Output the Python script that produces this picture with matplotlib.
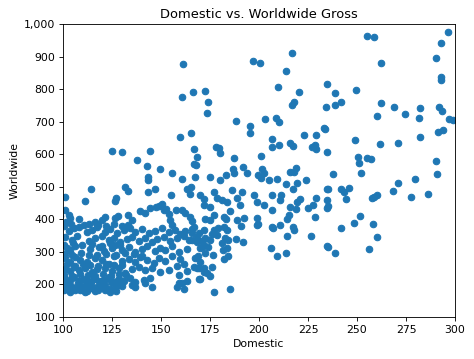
import matplotlib.pyplot as plt
from matplotlib.ticker import FuncFormatter

# Domestic vs worldwide gross
domestic = [
    255.3, 258.7, 296.5, 292.6, 290.5, 262.3, 292.9, 292.8, 249.6, 234.6,
    238.9, 234.1, 238.9, 241.6, 262.3, 269.0, 281.9, 274.4, 281.7, 260.1,
    292.0, 293.3, 297.0, 299.0, 196.7, 200.3, 216.6, 213.7, 209.8, 220.3,
    218.0, 216.6, 166.3, 172.6, 174.1, 173.2, 188.4, 195.2, 203.0, 208.8,
    210.0, 161.3, 160.8, 159.7, 165.4, 125.0, 130.2, 144.2, 166.8, 195.5,
    177.8, 179.7, 180.2, 206.6, 206.6, 210.0, 215.9, 217.3, 222.7, 229.2,
    232.9, 227.0, 228.7, 229.2, 234.6, 233.8, 249.0, 261.8, 270.8, 282.0,
    291.5, 293.9,
    137.5, 142.6, 149.5, 155.4, 143.1, 143.3, 160.8, 163.2, 166.6, 167.1,
    131.6, 133.1, 143.3, 146.7, 114.1, 111.2, 127.2, 126.7, 155.2, 100.8,
    150.6, 152.7, 168.3, 167.8, 187.4, 201.0, 186.7, 187.0, 183.3, 180.2,
    191.8, 193.8, 175.1, 201.5, 202.3, 201.0, 199.7, 205.2, 209.4, 215.9,
    219.0, 217.6, 224.1, 213.9, 217.3, 219.3, 170.0, 171.7, 171.7, 176.8,
    178.5, 181.1, 183.6, 186.2, 191.3, 188.7, 190.4, 197.2, 198.9, 202.3,
    206.6, 211.2, 210.5, 219.6, 221.0, 227.5, 229.2, 234.9, 235.4, 165.4,
    165.0, 250.7, 251.1, 255.0, 257.1, 237.5, 251.8, 290.4, 290.9, 270.8,
    279.7, 268.1, 286.1, 277.6, 257.6, 260.1, 258.9, 235.1, 241.9, 246.0,
    243.4, 244.3, 234.6,
    139.1, 142.0, 144.2, 133.1, 135.2, 128.0, 126.7, 121.4, 120.0, 108.3,
    101.2, 102.9, 103.7, 101.5, 157.6, 160.5, 162.4, 164.9, 147.4, 149.1,
    151.3, 153.9, 154.7, 155.6, 113.0, 116.5, 110.5, 166.0, 234.6, 215.6,
    219.0, 225.2, 228.3, 175.1, 177.2, 175.1, 172.6, 181.9, 183.3, 185.0,
    188.7, 192.1, 190.8, 198.9, 199.7, 206.6, 210.5, 214.2, 215.2, 217.3,
    206.6, 251.6, 248.2, 258.2, 241.8, 235.1, 238.9, 260.3, 256.0, 177.2,
    185.0, 206.1, 209.4, 213.7, 214.2, 217.6, 226.5, 234.6, 198.9, 207.1,
    188.4, 191.8, 168.6, 171.7, 169.7, 173.4, 174.8, 176.0, 169.1, 172.6,
    176.5, 182.3, 184.4, 181.6, 183.6, 184.1, 181.1, 182.4, 171.7, 170.0,
    174.2, 175.1, 172.6, 168.3, 165.8, 176.8, 179.3, 181.9, 183.6, 178.5,
    176.0, 166.6, 165.8, 135.2, 136.9, 142.0, 145.4, 158.1, 160.7, 161.5,
    159.3, 166.6,
    # dense cluster
    102.9, 105.4, 112.2, 114.8, 117.3, 121.6, 124.1, 127.6, 131.0, 134.4,
    136.9, 140.3, 143.7, 147.1, 150.5, 153.9, 157.3, 159.9, 162.4, 165.8,
    169.2, 171.8,
    101.2, 104.6, 107.1, 113.1, 116.5, 119.9, 123.3, 125.9, 129.3, 132.7,
    135.2, 138.6, 142.0, 145.4, 148.0, 151.4, 154.8, 158.2, 161.6, 164.1,
    168.4, 170.9,
    102.0, 103.7, 106.3, 113.9, 118.2, 120.7, 125.0, 126.7, 130.1, 133.5,
    136.9, 140.3, 142.9, 147.1, 149.7, 152.2, 155.6, 159.0, 163.3, 170.9,
    101.2, 103.7, 106.3, 108.8, 112.2, 116.5, 119.9, 123.3, 125.9, 130.1,
    133.5, 136.9, 139.5, 142.9, 146.3, 148.8, 152.2, 155.6, 159.9, 161.6,
    167.5, 170.1,
    101.2, 103.7, 105.4, 108.0, 111.4, 114.8, 117.3, 121.6, 125.0, 128.4,
    131.8, 135.2, 138.6, 142.0, 145.4, 149.7, 153.9, 158.2, 163.3, 169.2,
    171.8,
    101.2, 102.9, 105.4, 108.0, 110.5, 113.1, 115.6, 118.2, 120.7, 123.3,
    125.9, 128.4, 131.0, 134.4, 136.9, 141.2, 144.6, 159.0, 163.3, 169.2,
    101.2, 103.7, 106.3, 108.8, 111.4, 113.9, 116.5, 119.0, 121.6, 124.1,
    126.7,
    100.5, 104.0, 107.5, 111.0, 114.5, 118.0, 121.5, 125.0, 128.0,
    100.5, 104.5, 108.5, 112.5, 116.5, 120.5, 124.5, 128.5, 132.0,
    102.0, 106.0, 110.0, 114.0, 118.0, 122.0, 126.0, 130.0,
    101.0, 104.5, 109.0, 113.0, 117.5, 122.0, 127.0, 131.5, 136.0, 140.5,
    98.0, 98.5, 97.5, 98.0, 97.0, 98.5,
    100.5, 103.0, 106.0, 109.0, 112.0, 115.0, 118.0, 121.0, 124.0, 127.0,
    130.0,
    100.5, 105.0, 109.5, 115.0, 120.0, 124.0, 129.0,
    100.5, 104.0, 108.0, 118.0, 122.0, 126.0, 130.0, 133.0,
    100.0, 104.0, 108.0, 112.0, 116.0, 120.0, 124.0, 128.0,
]
worldwide = [
    962, 959, 977, 941, 897, 880, 837, 829, 798, 815,
    789, 746, 752, 759, 758, 745, 742, 723, 712, 716,
    745, 734, 709, 705, 888, 880, 911, 855, 808, 792,
    760, 750, 791, 795, 760, 726, 702, 688, 707, 712,
    698, 877, 775, 654, 666, 609, 606, 611, 616, 666,
    623, 619, 603, 646, 623, 628, 634, 625, 658, 658,
    680, 623, 628, 616, 606, 678, 644, 632, 635, 654,
    668, 673,
    582, 564, 555, 543, 529, 521, 524, 493, 570, 529,
    500, 488, 485, 492, 492, 455, 466, 457, 475, 469,
    447, 431, 592, 567, 588, 595, 554, 541, 536, 521,
    562, 543, 529, 554, 541, 526, 536, 521, 524, 546,
    557, 546, 521, 508, 493, 511, 475, 464, 444, 485,
    467, 459, 454, 490, 485, 467, 444, 475, 454, 444,
    475, 475, 459, 454, 461, 444, 467, 492, 441, 500,
    478, 591, 574, 588, 584, 539, 543, 580, 539, 512,
    523, 488, 478, 469, 467, 475, 469, 493, 493, 497,
    485, 462, 459,
    426, 421, 434, 413, 398, 410, 403, 408, 398, 401,
    428, 413, 403, 392, 428, 428, 418, 406, 437, 442,
    428, 416, 398, 382, 387, 392, 382, 395, 434, 437,
    431, 434, 408, 437, 413, 398, 400, 408, 400, 426,
    398, 403, 379, 403, 387, 377, 384, 400, 413, 375,
    428, 411, 390, 385, 372, 315, 297, 346, 309, 177,
    185, 312, 288, 296, 349, 366, 348, 318, 382, 374,
    341, 331, 251, 249, 218, 234, 226, 254, 288, 298,
    290, 277, 287, 305, 311, 336, 326, 343, 321, 311,
    315, 336, 343, 331, 336, 367, 372, 377, 367, 351,
    356, 377, 357, 198, 192, 203, 192, 192, 203, 187,
    230, 254,
    # dense cluster
    365, 372, 360, 368, 375, 362, 370, 358, 366, 374,
    361, 369, 357, 365, 372, 360, 368, 355, 363, 371,
    359, 366,
    345, 338, 350, 332, 342, 348, 336, 344, 330, 340,
    347, 335, 343, 331, 339, 346, 334, 342, 350, 337,
    345, 333,
    312, 305, 318, 308, 315, 302, 311, 320, 306, 314,
    300, 309, 317, 304, 313, 307, 319, 301, 310, 316,
    280, 270, 285, 274, 268, 282, 276, 264, 286, 272,
    279, 268, 284, 275, 266, 281, 271, 287, 277, 262,
    282, 270,
    248, 240, 254, 244, 250, 238, 246, 252, 241, 249,
    236, 247, 255, 243, 251, 239, 245, 257, 242, 250,
    237,
    218, 208, 222, 212, 216, 206, 220, 210, 214, 224,
    207, 217, 211, 221, 209, 215, 219, 205, 212, 218,
    185, 178, 190, 182, 176, 188, 180, 192, 184, 178,
    186,
    200, 196, 203, 198, 201, 195, 199, 204, 197,
    230, 226, 232, 228, 225, 231, 227, 233, 229,
    262, 258, 264, 260, 257, 263, 259, 261,
    294, 290, 296, 292, 289, 295, 291, 297, 293, 288,
    200, 240, 280, 320, 360, 410,
    182, 190, 184, 193, 181, 189, 183, 191, 186, 180,
    194,
    322, 326, 320, 324, 319, 327, 321,
    380, 385, 378, 383, 381, 386, 379, 384,
    212, 216, 210, 214, 218, 211, 215, 213,
]

fig, ax = plt.subplots(figsize=(474 / 78, 359 / 78), dpi=78)
fig.subplots_adjust(left=0.133, right=0.96, bottom=0.117, top=0.933)

ax.scatter(domestic, worldwide)
ax.set_xlim(100, 300)
ax.set_ylim(100, 1000)
ax.yaxis.set_major_formatter(FuncFormatter(lambda v, p: f'{v:,.0f}'))
ax.set_xlabel('Domestic')
ax.set_ylabel('Worldwide')
ax.set_title('Domestic vs. Worldwide Gross')

plt.savefig('out.png')
